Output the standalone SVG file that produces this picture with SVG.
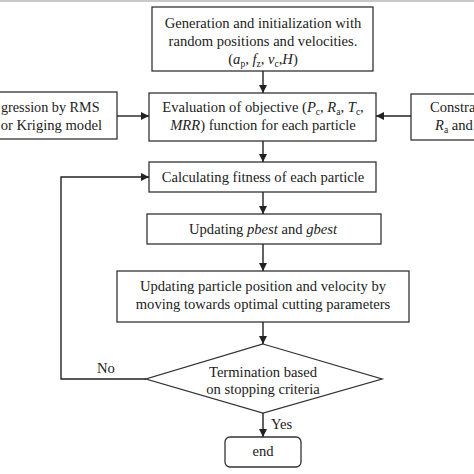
<svg xmlns="http://www.w3.org/2000/svg" width="474" height="474" viewBox="0 0 474 474">
<style>
.box{fill:#fff;stroke:#333;stroke-width:1.3}
.ln{fill:none;stroke:#222;stroke-width:1.4}
text{font-family:'Liberation Serif','DejaVu Serif',serif;font-size:14.6px;fill:#222}
.c{text-anchor:middle}
.i{font-style:italic}
.s{font-size:9.5px}
</style>
<defs>
<marker id="ah" markerWidth="8" markerHeight="8" refX="8" refY="4" orient="auto" markerUnits="userSpaceOnUse">
<path d="M0,0 L8,4 L0,8 Z" fill="#222"/>
</marker>
</defs>
<rect x="0" y="0" width="474" height="2" fill="#c8c8c8"/>
<g id="n-init">
<rect class="box" x="152" y="7" width="221" height="64"/>
<text class="c" x="263" y="28">Generation and initialization with</text>
<text class="c" x="263" y="46">random positions and velocities.</text>
<text class="c" x="263" y="64">(<tspan class="i">a</tspan><tspan class="s" dy="3">p</tspan><tspan dy="-3">, </tspan><tspan class="i">f</tspan><tspan class="s" dy="3">z</tspan><tspan dy="-3">, </tspan><tspan class="i">v</tspan><tspan class="s" dy="3">c</tspan><tspan dy="-3">,</tspan><tspan class="i">H</tspan>)</text>
</g>
<g id="n-reg">
<rect class="box" x="-10" y="92" width="127" height="47"/>
<text x="1" y="112" style="font-size:14.2px">gression by RMS</text>
<text x="102" y="130" text-anchor="end">or Kriging model</text>
</g>
<g id="n-eval">
<rect class="box" x="149" y="93" width="227" height="48"/>
<text class="c" x="263" y="112">Evaluation of objective (<tspan class="i">P</tspan><tspan class="s" dy="3">c</tspan><tspan dy="-3">, </tspan><tspan class="i">R</tspan><tspan class="s" dy="3">a</tspan><tspan dy="-3">, </tspan><tspan class="i">T</tspan><tspan class="s" dy="3">c</tspan><tspan dy="-3">,</tspan></text>
<text class="c" x="263" y="130"><tspan class="i">MRR</tspan>) function for each particle</text>
</g>
<g id="n-con">
<rect class="box" x="411" y="94" width="80" height="46"/>
<text x="430" y="112">Constra</text>
<text x="435" y="130"><tspan class="i">R</tspan><tspan class="s" dy="3">a</tspan><tspan dy="-3"> and</tspan></text>
</g>
<g id="n-fit">
<rect class="box" x="149" y="162" width="227" height="30"/>
<text class="c" x="263" y="182">Calculating fitness of each particle</text>
</g>
<g id="n-best">
<rect class="box" x="147" y="214" width="234" height="30"/>
<text class="c" x="263" y="234">Updating <tspan class="i">pbest</tspan> and <tspan class="i">gbest</tspan></text>
</g>
<g id="n-upd">
<rect class="box" x="117" y="271" width="292" height="51"/>
<text class="c" x="263" y="291">Updating particle position and velocity by</text>
<text class="c" x="263" y="309">moving towards optimal cutting parameters</text>
</g>
<g id="n-term">
<polygon class="box" points="263,344 382,379 263,413 146,379"/>
<text class="c" x="263" y="377">Termination based</text>
<text class="c" x="263" y="394">on stopping criteria</text>
</g>
<g id="n-end">
<rect class="box" x="225" y="437" width="76" height="30" rx="5"/>
<text class="c" x="263" y="456">end</text>
</g>
<g id="connectors">
<line class="ln" x1="263" y1="71" x2="263" y2="93" marker-end="url(#ah)"/>
<line class="ln" x1="117" y1="116" x2="149" y2="116" marker-end="url(#ah)"/>
<line class="ln" x1="411" y1="116" x2="376" y2="116" marker-end="url(#ah)"/>
<line class="ln" x1="263" y1="141" x2="263" y2="162" marker-end="url(#ah)"/>
<line class="ln" x1="263" y1="192" x2="263" y2="214" marker-end="url(#ah)"/>
<line class="ln" x1="263" y1="244" x2="263" y2="271" marker-end="url(#ah)"/>
<line class="ln" x1="263" y1="322" x2="263" y2="344" marker-end="url(#ah)"/>
<line class="ln" x1="263" y1="413" x2="263" y2="437" marker-end="url(#ah)"/>
<polyline class="ln" points="146,379 61,379 61,177 149,177" marker-end="url(#ah)"/>
<text x="97" y="373">No</text>
<text x="271" y="429">Yes</text>
</g>
</svg>
